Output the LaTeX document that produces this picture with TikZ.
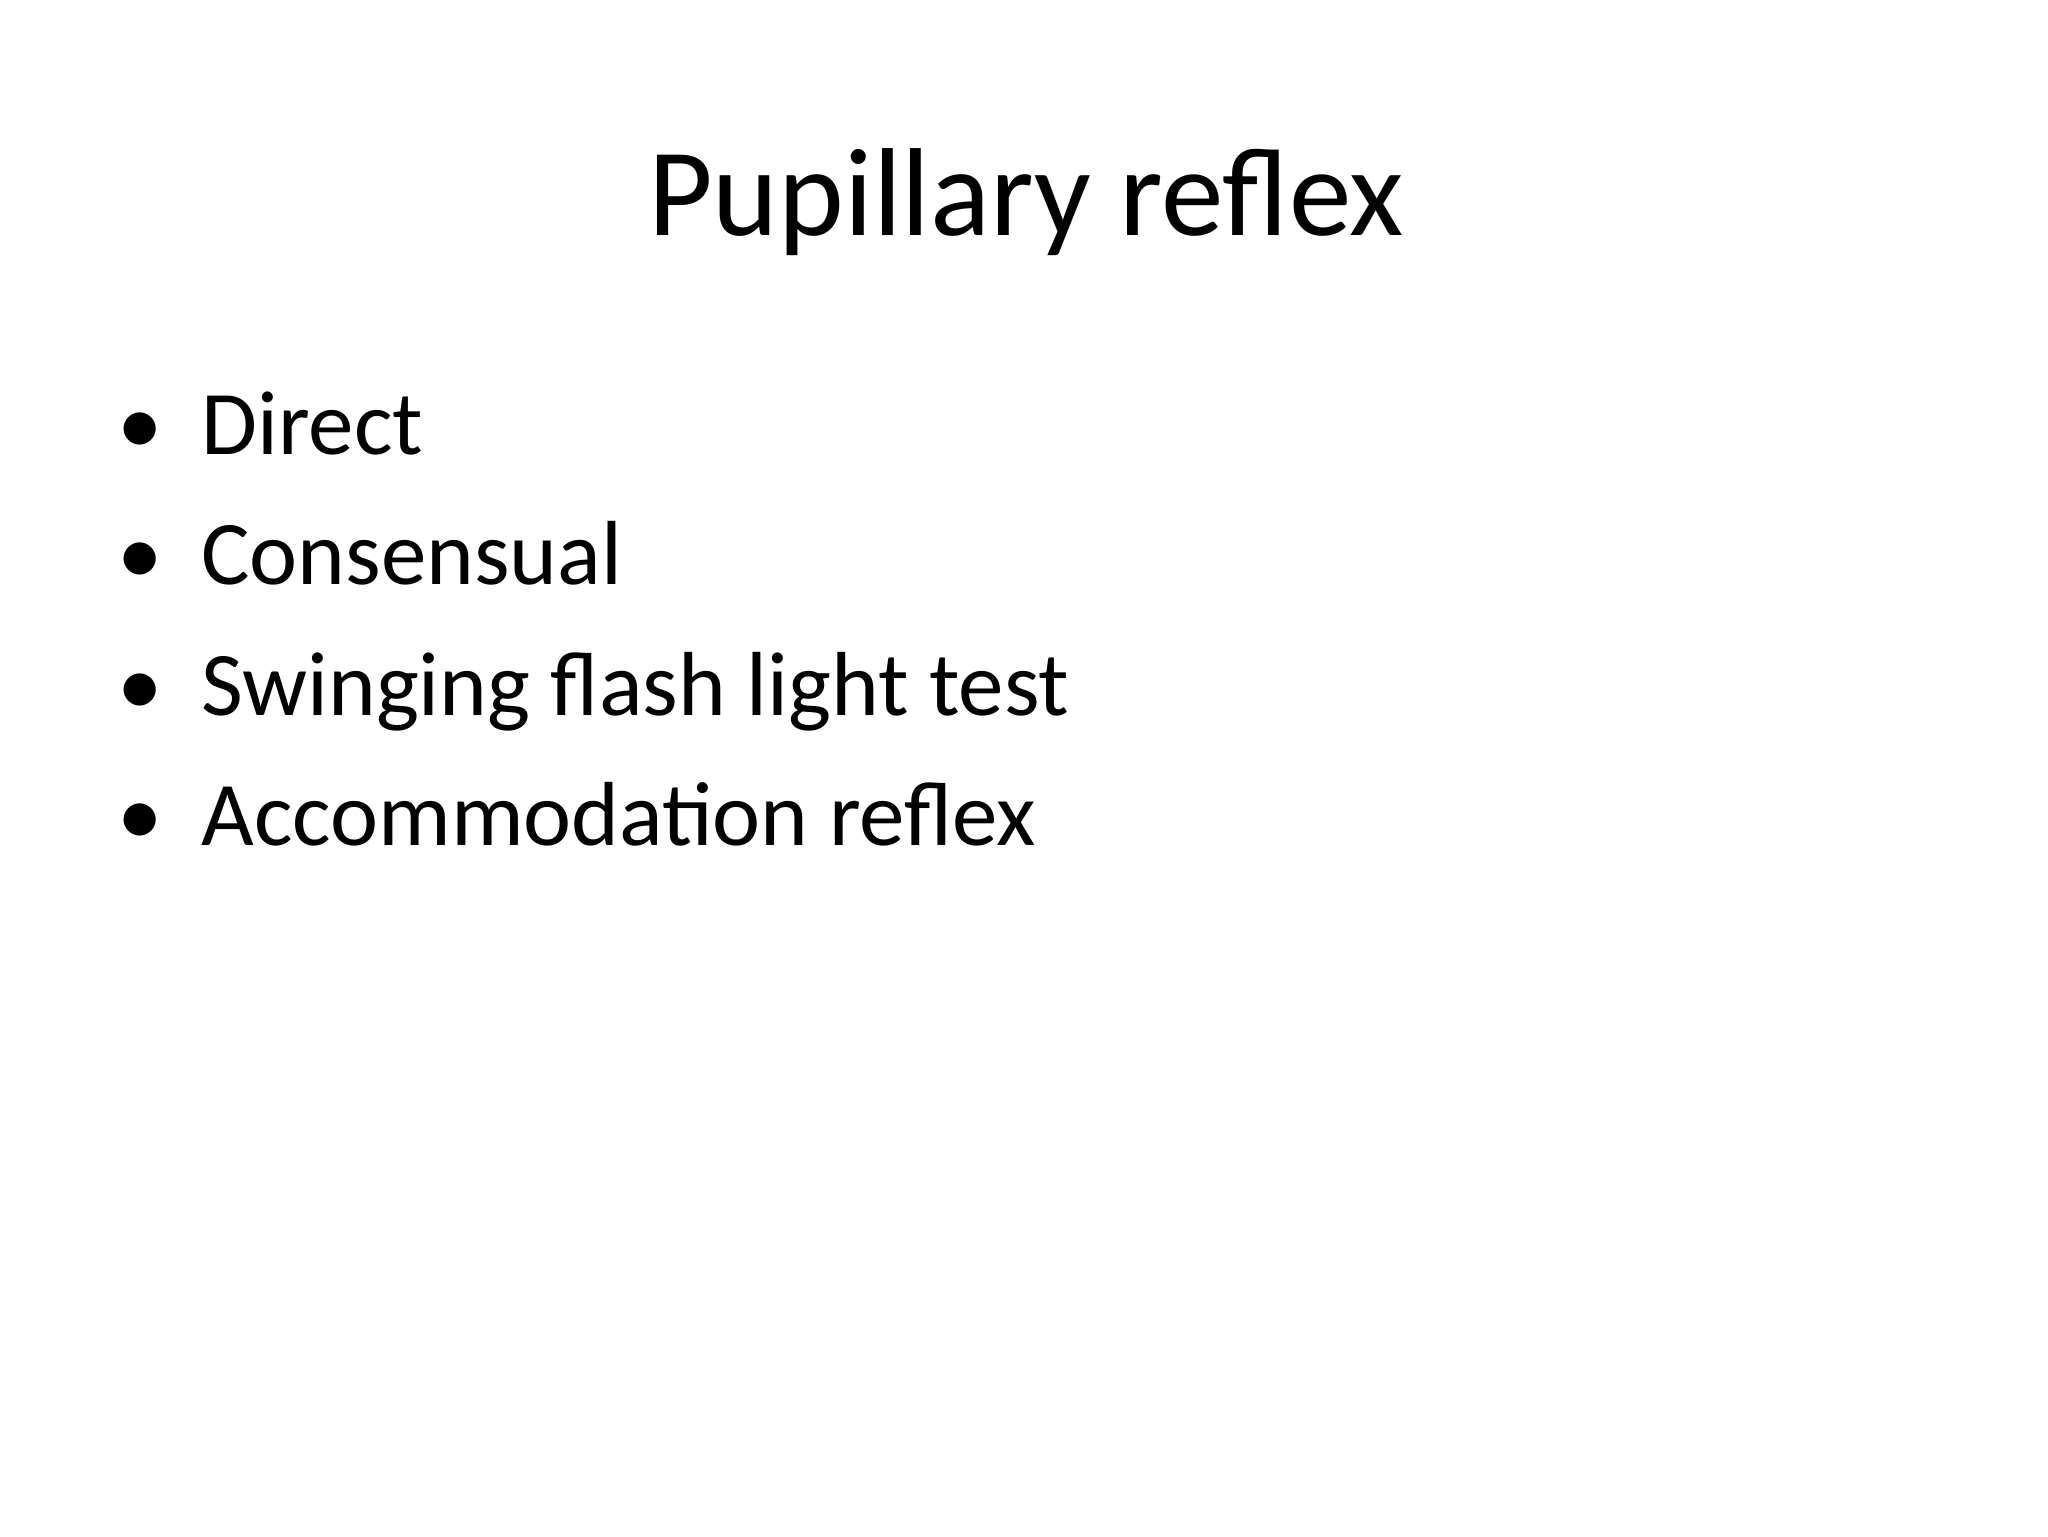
\documentclass[tikz,border=0pt]{standalone}
\usepackage{fontspec}
\setmainfont{Carlito}
\begin{document}
\begin{tikzpicture}[x=1pt,y=1pt,
  item/.style={anchor=base west,inner sep=0pt,font=\fontsize{45.5}{54}\selectfont},
  dot/.style={anchor=base,inner sep=0pt,font=\fontsize{45.5}{54}\selectfont}]
\useasboundingbox[fill=white] (0,0) rectangle (1024,-768);
\node[anchor=base,inner sep=0pt,font=\fontsize{62.6}{75}\selectfont] (title) at (513,-117.6) {Pupillary reflex};
\foreach \t [count=\i] in {Direct,Consensual,Swinging flash light test,Accommodation reflex}{
  \node[dot] (b\i) at (70,{-227-65.3*(\i-1)}) {•};
  \node[item] (t\i) at (100.5,{-227-65.3*(\i-1)}) {\t};
}
\end{tikzpicture}
\end{document}
